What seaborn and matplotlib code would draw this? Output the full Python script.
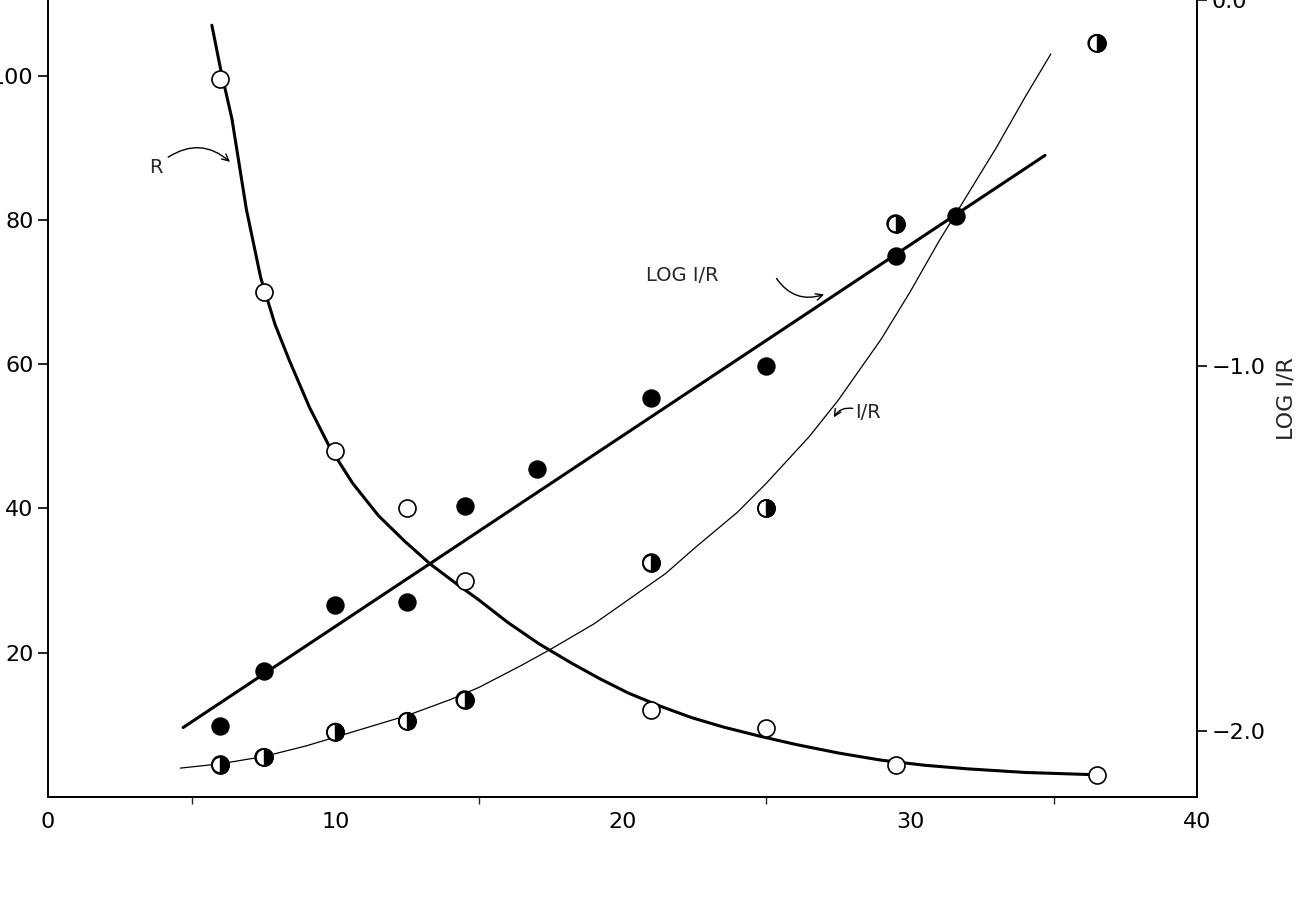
import matplotlib
matplotlib.use("Agg")
import matplotlib.pyplot as plt
import seaborn as sns
from matplotlib.markers import MarkerStyle

sns.set_theme(style="white")
plt.rcParams['font.family'] = ['DejaVu Sans']

# data points
r_x = [6, 7.5, 10, 12.5, 14.5, 21, 25, 29.5, 36.5]
r_y = [99.5, 70, 48, 40, 30, 12, 9.5, 4.5, 3]
inv_x = [6, 7.5, 10, 12.5, 14.5, 21, 25, 29.5, 36.5]
inv_y = [4.5, 5.5, 9, 10.5, 13.5, 32.5, 40, 79.5, 104.5]
log_x = [6, 7.5, 10, 12.5, 14.5, 17, 21, 25, 29.5, 31.6]
log_y = [-1.986, -1.836, -1.655, -1.647, -1.384, -1.282, -1.09, -1.0, -0.701, -0.592]

# drawn curves
rc_x = [5.7, 6.0, 6.4, 6.9, 7.4, 7.9, 8.4, 9.1, 9.8, 10.6, 11.5, 12.4, 13.3, 14.2,
        15.0, 16.0, 17.1, 18.2, 19.2, 20.2, 21.3, 22.4, 23.5, 24.8, 26.0, 27.5, 29.0,
        30.5, 32.0, 34.0, 36.3]
rc_y = [107, 101, 94, 81.5, 72, 65.5, 60.5, 54, 48.5, 43.5, 39, 35.5, 32.3, 29.6,
        27.3, 24.2, 21.2, 18.6, 16.4, 14.4, 12.6, 11.0, 9.7, 8.4, 7.3, 6.1, 5.1,
        4.4, 3.9, 3.4, 3.1]
ic_x = [4.6, 6.0, 7.5, 9.0, 10.0, 11.0, 12.5, 14.0, 15.0, 16.5, 17.5, 19.0, 20.0,
        21.5, 22.5, 24.0, 25.0, 26.5, 27.5, 29.0, 30.0, 31.0, 32.0, 33.0, 34.0, 34.9]
ic_y = [4, 4.6, 5.6, 7.1, 8.3, 9.5, 11.3, 13.5, 15.2, 18.3, 20.5, 24.0, 26.8,
        31.0, 34.5, 39.5, 43.5, 50.0, 55.0, 63.5, 70.0, 77.0, 83.5, 90.0, 97.0, 103]
lc_x = [4.7, 34.7]
lc_y = [-1.99, -0.425]

fig = plt.figure(figsize=(13, 9.15), dpi=100)
ax = fig.add_axes([0.037, 0.129, 0.884, 0.871])
ax2 = ax.twinx()

sns.lineplot(x=rc_x, y=rc_y, ax=ax, color='black', lw=2.2, sort=False)
sns.lineplot(x=ic_x, y=ic_y, ax=ax, color='black', lw=0.9, sort=False)
sns.lineplot(x=lc_x, y=lc_y, ax=ax2, color='black', lw=2.2, sort=False)

ax.scatter(r_x, r_y, s=150, facecolor='white', edgecolor='black', lw=1.2, zorder=5)
ax.scatter(inv_x, inv_y, s=150, marker=MarkerStyle('o', fillstyle='full'),
           facecolor='white', edgecolor='black', lw=1.2, zorder=5)
ax.scatter(inv_x, inv_y, s=150, marker=MarkerStyle('o', fillstyle='right'),
           color='black', zorder=6)
ax.scatter(inv_x, inv_y, s=150, facecolor='none', edgecolor='black', lw=1.2, zorder=7)
ax2.scatter(log_x, log_y, s=150, color='black', zorder=5)

ax.set_xlim(0, 40)
ax.set_ylim(0, 110.5)
ax2.set_ylim(-2.18, 0.0)
ax.set_xticks([0, 10, 20, 30, 40])
ax.set_xticks([5, 15, 25, 35], minor=True)
ax.set_yticks([20, 40, 60, 80, 100])
ax2.set_yticks([-2.0, -1.0, 0.0])
ax2.set_yticklabels(['−2.0', '−1.0', '0.0'])
for a in (ax, ax2):
    a.tick_params(direction='out', length=7, width=1.2, labelsize=16, colors='black')
    for s in a.spines.values():
        s.set_color('black')
    a.grid(False)
ax.tick_params(axis='x', which='minor', direction='out', length=5, width=1.0, bottom=True)
ax.spines['top'].set_visible(False)
ax2.spines['top'].set_visible(False)
ax2.set_ylabel('LOG I/R', fontsize=16, labelpad=8)

ax.text(3.5, 86.5, 'R', fontsize=14)
ax.annotate('', xy=(6.4, 87.8), xytext=(4.1, 88.5),
            arrowprops=dict(arrowstyle='->', color='black', lw=1, connectionstyle='arc3,rad=-0.4'))
ax.text(20.8, 71.5, 'LOG I/R', fontsize=14)
ax.annotate('', xy=(27.1, 69.8), xytext=(25.3, 72.2),
            arrowprops=dict(arrowstyle='->', color='black', lw=1, connectionstyle='arc3,rad=0.4'))
ax.text(28.1, 52.5, 'I/R', fontsize=14)
ax.annotate('', xy=(27.3, 52.3), xytext=(28.1, 53.8),
            arrowprops=dict(arrowstyle='->', color='black', lw=1, connectionstyle='arc3,rad=0.4'))

fig.savefig('out.png', dpi=100)
